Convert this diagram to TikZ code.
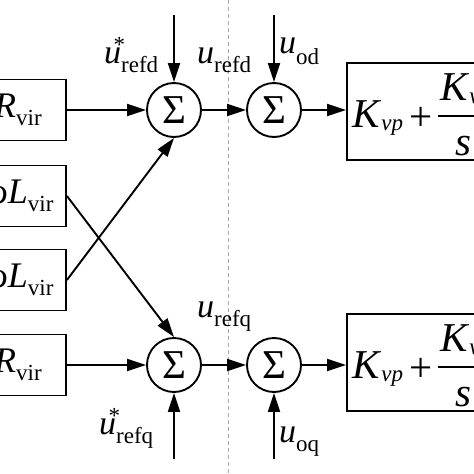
\documentclass[tikz,border=0pt]{standalone}
\usepackage{fontspec}
\setmainfont{Liberation Serif}
\usepackage{tikz}
\usetikzlibrary{arrows.meta, positioning}
\newcommand{\sbs}[2]{\raisebox{#1}{\fontsize{23}{23}\selectfont #2}}
\newcommand{\ust}{\rlap{\hspace{-0.22em}\raisebox{0.3em}{\fontsize{23}{23}\selectfont *}}}

\begin{document}
\begin{tikzpicture}[x=1pt, y=-1pt,
  blk/.style={rectangle, draw, line width=1.9pt, minimum width=96pt,
    minimum height=61pt, inner sep=0pt, font=\fontsize{36}{40}\selectfont},
  pibox/.style={rectangle, draw, line width=1.9pt, minimum width=148pt,
    minimum height=97pt, inner sep=0pt},
  sumnode/.style={circle, draw, line width=1.9pt, minimum size=54pt,
    inner sep=0pt, font=\fontsize{41}{41}\selectfont},
  lbl/.style={anchor=base west, inner sep=0pt, font=\fontsize{34}{36}\selectfont},
  pitxt/.style={inner sep=0pt, font=\fontsize{41}{44}\selectfont},
  sig/.style={-{Triangle[length=19pt,width=12pt]}, line width=1.9pt}
]
\useasboundingbox (0,0) rectangle (474,474);
\clip (0,0) rectangle (474,474);

% dividing line
\coordinate (dtop) at (228,0);
\coordinate (dbot) at (228,474);
\draw[gray!70, line width=0.8pt, dash pattern=on 4pt off 3pt] (dtop) -- (dbot);

% virtual impedance
\node[blk] (rv1) at (18,110) {\textit{R}\sbs{-0.22em}{vir}};
\node[blk] (wl1) at (18,196) {\textit{ωL}\sbs{-0.22em}{vir}};
\node[blk] (wl2) at (18,280) {\textit{ωL}\sbs{-0.22em}{vir}};
\node[blk] (rv2) at (18,365) {\textit{R}\sbs{-0.22em}{vir}};

% summing points
\node[sumnode] (s1) at (174,110) {Σ};
\node[sumnode] (s2) at (274,110) {Σ};
\node[sumnode] (s3) at (174,365) {Σ};
\node[sumnode] (s4) at (274,365) {Σ};

% PI controllers
\node[pibox] (pi1) at (421,111.5) {};
\node[pitxt, anchor=base west] (kp1) at (352,127) {\textit{K}\sbs{-0.08em}{\textit{vp}}};
\node[pitxt] (pl1) at (421,119) {+};
\node[pitxt, anchor=base] (ki1) at (463,100) {\textit{K}\sbs{-0.08em}{\textit{vi}}};
\node[pitxt, anchor=base] (sd1) at (463,155) {\textit{s}};
\draw[line width=1.9pt] (438,116) -- (489,116);

\node[pibox] (pi2) at (421,362.5) {};
\node[pitxt, anchor=base west] (kp2) at (352,378) {\textit{K}\sbs{-0.08em}{\textit{vp}}};
\node[pitxt] (pl2) at (421,370) {+};
\node[pitxt, anchor=base] (ki2) at (463,351) {\textit{K}\sbs{-0.08em}{\textit{vi}}};
\node[pitxt, anchor=base] (sd2) at (463,406) {\textit{s}};
\draw[line width=1.9pt] (438,367) -- (489,367);

% inputs
\coordinate (in1) at (174,15);
\coordinate (in2) at (274,15);
\coordinate (in3) at (174,459);
\coordinate (in4) at (274,459);
\draw[sig] (in1) -- (s1);
\draw[sig] (in2) -- (s2);
\draw[sig] (in3) -- (s3);
\draw[sig] (in4) -- (s4);

% signal flow
\draw[sig] (rv1) -- (s1);
\draw[sig] (rv2) -- (s3);
\draw[sig] (wl1.east) -- (s3.north);
\draw[sig] (wl2.east) -- (s1.south);
\draw[sig] (s1) -- (s2);
\draw[sig] (s3) -- (s4);
\draw[sig] (s2.east) -- (s2.east -| pi1.west);
\draw[sig] (s4.east) -- (s4.east -| pi2.west);

% labels
\node[lbl] (us1) at (104,63) {\textit{u}\ust\sbs{-0.29em}{refd}};
\node[lbl] (ur1) at (197,63) {\textit{u}\sbs{-0.29em}{refd}};
\node[lbl] (uo1) at (279,53) {\textit{u}\sbs{-0.35em}{od}};
\node[lbl] (ur2) at (197,317) {\textit{u}\sbs{-0.29em}{refq}};
\node[lbl] (us2) at (99,434) {\textit{u}\ust\sbs{-0.29em}{refq}};
\node[lbl] (uo2) at (279,442) {\textit{u}\sbs{-0.29em}{oq}};
\end{tikzpicture}
\end{document}
